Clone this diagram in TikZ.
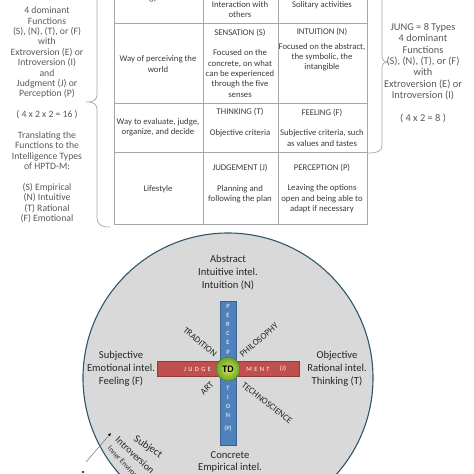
\documentclass[tikz,border=0pt]{standalone}
\usepackage{fontspec}
\setmainfont{Carlito}
\usetikzlibrary{arrows.meta}
\definecolor{tabline}{HTML}{A6A6A6}
\definecolor{tabtext}{HTML}{3A3A3A}
\definecolor{sidetext}{HTML}{595959}
\definecolor{discfill}{HTML}{D9D9D9}
\definecolor{discline}{HTML}{31566B}
\definecolor{judgered}{HTML}{C0504D}
\definecolor{percblue}{HTML}{4F81BD}
\definecolor{ballin}{HTML}{D4E85A}
\definecolor{ballout}{HTML}{6AA42A}
\newcommand\lsp{\hspace{2.4pt}}

\begin{document}
\begin{tikzpicture}
      [x=1pt, y=-1pt,
      cell/.style={align=center, inner sep=0pt, text=tabtext, font=\fontsize{8.7}{10.3}\selectfont},
      side/.style={align=center, inner sep=0pt, text=sidetext},
      pole/.style={align=center, inner sep=0pt, text=black!85, font=\fontsize{10.6}{12.8}\selectfont},
      field/.style={inner sep=0pt, text=black!85, font=\fontsize{9}{10}\selectfont},
      barletter/.style={align=center, inner sep=0pt, text=white, font=\fontsize{6.5}{9.2}\selectfont},
      brace/.style={draw=tabline, line width=0.7pt}]

      \useasboundingbox (0,0) rectangle (474,474);

      % table
      \draw[tabline, line width=0.7pt] (114,-30) rectangle (367,224);
      \draw[tabline, line width=0.7pt] (203,-30) -- (203,224) (278,-30) -- (278,224)
        (114,23) -- (367,23) (114,103) -- (367,103) (114,152) -- (367,152);

      \node[cell] (source) at (158,-1) {energy source};
      \node[cell] (extro) at (240,9.5) {Interaction with\\others};
      \node[cell] (intro) at (322,5) {Solitary activities};
      \node[cell] (percv) at (158,64) {Way of perceiving the\\world};
      \node[cell] (sens) at (240,63) {SENSATION (S)\\[10.3pt]Focused on the\\concrete, on what\\can be experienced\\through the five\\senses};
      \node[cell] (intu) at (322,50) {INTUITION (N)\\[4pt]Focused on the abstract,\\the symbolic, the\\intangible};
      \node[cell] (evalu) at (158,127.5) {Way to evaluate, judge,\\organize, and decide};
      \node[cell] (think) at (240,122.5) {THINKING (T)\\[10.3pt]Objective criteria};
      \node[cell] (feel) at (322,127.5) {FEELING (F)\\[10.3pt]Subjective criteria, such\\as values and tastes};
      \node[cell] (life) at (158,189) {Lifestyle};
      \node[cell] (judg) at (240,184) {JUDGEMENT (J)\\[10.3pt]Planning and\\following the plan};
      \node[cell] (percp) at (322,188.5) {PERCEPTION (P)\\[10.3pt]Leaving the options\\open and being able to\\adapt if necessary};

      % braces
      \draw[brace] (110,227) .. controls (100,227) and (97,224) .. (97,216) -- (97,110)
        .. controls (97,104) and (94,102) .. (86,102) .. controls (94,102) and (97,100) .. (97,94)
        -- (97,-12) .. controls (97,-20) and (100,-23) .. (110,-23);
      \draw[brace] (367,153) .. controls (378,153) and (382,151) .. (382,145) -- (382,68)
        .. controls (382,64) and (384,62) .. (388,62) .. controls (384,62) and (382,60) .. (382,56)
        -- (382,-20) .. controls (382,-26) and (378,-28) .. (367,-28);

      \node[side, font=\fontsize{9.7}{10.4}\selectfont] (hptd) at (47,115)
        {4 dominant\\Functions\\(S), (N), (T), or (F)\\with\\Extroversion (E) or\\Introversion (I)\\and\\Judgment (J) or\\Perception (P)\\[10.4pt]( 4 x 2 x 2 = 16 )\\[10.4pt]Translating the\\Functions to the\\Intelligence Types\\of HPTD-M:\\[10.4pt](S) Empirical\\(N) Intuitive\\(T) Rational\\(F) Emotional};
      \node[side, font=\fontsize{10.4}{11.3}\selectfont] (jung) at (423,73)
        {JUNG = 8 Types\\4 dominant\\Functions\\(S), (N), (T), or (F)\\with\\Extroversion (E) or\\Introversion (I)\\[11.3pt]( 4 x 2 = 8 )};

      % disc
      \node[circle, draw=discline, fill=discfill, line width=1.1pt, minimum size=290pt, inner sep=0pt] (disc) at (228,378) {};

      \node[pole] (abstr) at (228,272.5) {Abstract\\Intuitive intel.\\Intuition (N)};
      \node[pole] (subjv) at (121,369) {Subjective\\Emotional intel.\\Feeling (F)};
      \node[pole] (objv) at (337,369) {Objective\\Rational intel.\\Thinking (T)};
      \node[pole] (concr) at (230,462) {Concrete\\Empirical intel.};

      \node[field, rotate=-40] (trad) at (200,342) {TRADITION};
      \node[field, rotate=40] (philo) at (259,340) {PHILOSOPHY};
      \node[field, rotate=45] (art) at (207,388) {ART};
      \node[field, rotate=-38] (techno) at (267,403) {TECHNOSCIENCE};

      \node[pole, rotate=-34] (subj) at (148,447) {Subject};
      \node[pole, font=\fontsize{10}{12}\selectfont, rotate=-43] (introv) at (135,455) {Introversion};
      \node[pole, font=\fontsize{7.5}{9}\selectfont, rotate=-47, anchor=west] (innerenv) at (109,447) {Inner Environment};

      \coordinate (inlow) at (86,462);
      \coordinate (inhigh) at (111,433);
      \draw[gray, line width=0.6pt, -{Latex[length=3pt, width=3pt, black]}] (inlow) -- (inhigh);
      \fill (83,472) circle (1.2);

      % bars and ball
      \node[draw=percblue!75!black, fill=percblue, minimum width=16pt, minimum height=144pt, inner sep=0pt] (percbar) at (228,373) {};
      \node[draw=judgered!75!black, fill=judgered, minimum width=142pt, minimum height=15pt, inner sep=0pt] (judgebar) at (228,368.5) {};

      \node[barletter] (judge) at (197.5,369) {J\lsp U\lsp D\lsp G\lsp E};
      \node[barletter] (ment) at (258,369) {M\lsp E\lsp N\lsp T};
      \node[barletter] (jay) at (283,369) {(J)};
      \node[barletter] (percep) at (228,329) {P\\E\\R\\C\\E\\P};
      \node[barletter] (tion) at (228,402) {T\\I\\O\\N};
      \node[barletter] (pee) at (228,429) {(P)};

      \node[circle, minimum size=24pt, inner sep=0pt, inner color=ballin, outer color=ballout, draw=ballout!70!black, font=\bfseries\fontsize{10}{12}\selectfont] (td) at (228,369) {TD};
    \end{tikzpicture}
\end{document}
